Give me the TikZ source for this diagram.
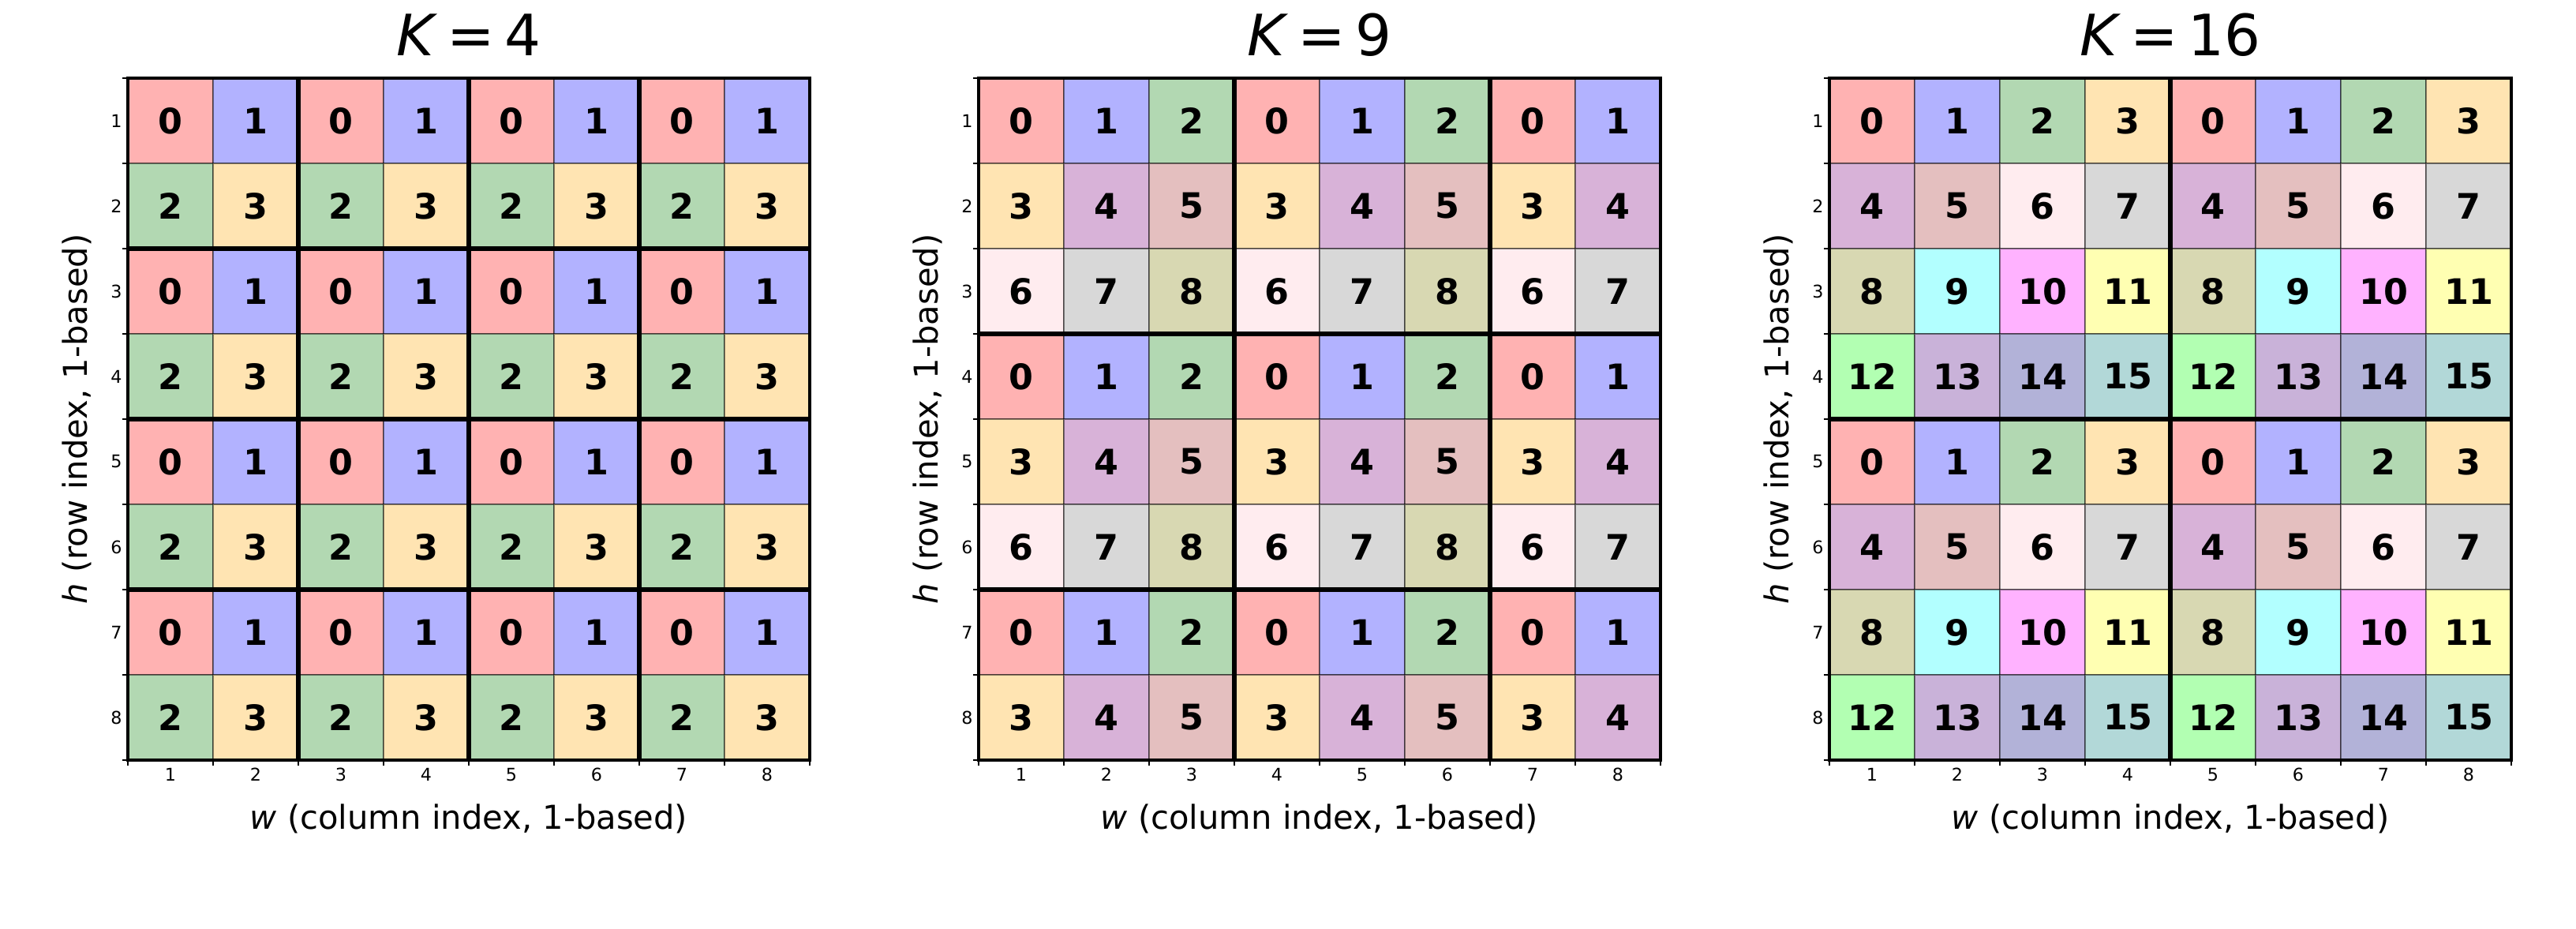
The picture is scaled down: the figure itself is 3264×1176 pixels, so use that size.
\documentclass[tikz,border=0pt]{standalone}
\usepackage{fontspec}
\setmainfont{DejaVu Sans}
\definecolor{c0}{RGB}{255,178,178}
\definecolor{c1}{RGB}{178,178,255}
\definecolor{c2}{RGB}{178,216,178}
\definecolor{c3}{RGB}{255,228,178}
\definecolor{c4}{RGB}{216,178,216}
\definecolor{c5}{RGB}{228,191,191}
\definecolor{c6}{RGB}{255,236,239}
\definecolor{c7}{RGB}{216,216,216}
\definecolor{c8}{RGB}{216,216,178}
\definecolor{c9}{RGB}{178,255,255}
\definecolor{c10}{RGB}{255,178,255}
\definecolor{c11}{RGB}{255,255,178}
\definecolor{c12}{RGB}{178,255,178}
\definecolor{c13}{RGB}{201,178,217}
\definecolor{c14}{RGB}{178,178,216}
\definecolor{c15}{RGB}{178,216,216}
\tikzset{
  cell/.style={minimum size=38.88pt, inner sep=0pt, draw=black, draw opacity=0.45, line width=0.6pt,
    font=\bfseries\fontsize{16}{16}\selectfont},
  blockline/.style={line width=2.4pt, black},
  frame/.style={line width=1.3pt, black},
  tickmark/.style={line width=0.8pt, black},
  ticklab/.style={inner sep=0pt, font=\fontsize{8}{8}\selectfont},
  axlab/.style={inner sep=0pt, font=\fontsize{15}{15}\selectfont},
  ttl/.style={inner sep=0pt, font=\fontsize{26}{26}\selectfont}
}
\newcommand\gridpanel[5]{%
  % #1 id, #2 left x, #3 block size, #4 K, #5 block line list
  \foreach \r in {0,...,7}{
    \foreach \c in {0,...,7}{
      \pgfmathtruncatemacro\v{mod(\r,#3)*#3+mod(\c,#3)}
      \node[cell, fill=c\v] (p#1r\r c\c) at (#2+\c*108+54, 99+\r*108+54) {\v};
    }
  }
  \foreach \k in {#5}{
    \draw[blockline] (#2+\k*108, 99) -- (#2+\k*108, 963);
    \draw[blockline] (#2, 99+\k*108) -- (#2+864, 99+\k*108);
  }
  \draw[frame] (#2,99) rectangle (#2+864,963);
  \foreach \k in {0,...,8}{
    \draw[tickmark] (#2+\k*108, 963) -- ++(0,7);
    \draw[tickmark] (#2, 99+\k*108) -- ++(-7,0);
  }
  \foreach \k [evaluate=\k as \n using int(\k+1)] in {0,...,7}{
    \node[ticklab, anchor=base] (p#1x\k) at (#2+\k*108+54, 989) {\n};
    \node[ticklab, anchor=east] (p#1y\k) at (#2-7, 99+\k*108+54) {\n};
  }
  \node[axlab, anchor=base] (p#1xl) at (#2+432, 1050) {\textit{w} (column index, 1-based)};
  \node[axlab, anchor=base, rotate=90] (p#1yl) at (#2-52, 531) {\textit{h} (row index, 1-based)};
  \node[ttl, anchor=base] (p#1t) at (#2+432, 70) {\textit{K}\,=\,#4};
}
\begin{document}
\begin{tikzpicture}[x=0.36pt,y=-0.36pt]
\useasboundingbox (0,0) rectangle (3264,1176);
\fill[white] (0,0) rectangle (3264,1176);
\gridpanel{a}{162}{2}{4}{2,4,6}
\gridpanel{b}{1240}{3}{9}{3,6}
\gridpanel{c}{2318}{4}{16}{4}
\end{tikzpicture}
\end{document}
